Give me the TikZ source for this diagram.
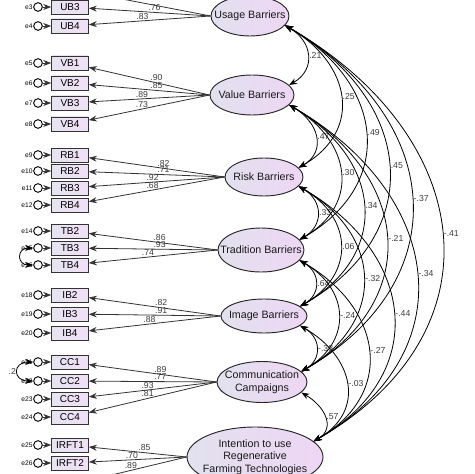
\documentclass[tikz,border=0pt]{standalone}
\usepackage{fontspec}
\setmainfont{Liberation Sans}
\usetikzlibrary{arrows.meta,shapes.geometric,positioning}

\definecolor{lvleft}{RGB}{226,225,238}
\definecolor{lvright}{RGB}{238,214,244}
\definecolor{obsleft}{RGB}{230,227,240}
\definecolor{obsright}{RGB}{240,224,246}
\definecolor{coefgray}{RGB}{60,60,60}

\tikzset{
  latent/.style={ellipse, draw=black!85, line width=0.7pt, left color=lvleft, right color=lvright, inner sep=0pt},
  lvtext/.style={font=\fontsize{8}{9.5}\selectfont, align=center, text=black!90, inner sep=0pt},
  obs/.style={rectangle, draw=black!80, line width=0.7pt, left color=obsleft, right color=obsright, minimum width=27.5pt, minimum height=10.5pt, inner sep=1pt, font=\fontsize{7.5}{9}\selectfont},
  err/.style={circle, draw, fill=white, line width=0.7pt, minimum size=6.5pt, inner sep=0pt},
  errlbl/.style={font=\fontsize{5}{6}\selectfont, inner sep=0.3pt},
  load/.style={draw=black!80, line width=0.6pt, -{Stealth[length=6pt,width=4.5pt]}},
  cov/.style={draw=black, line width=0.6pt, {Stealth[length=6pt,width=4.5pt]}-{Stealth[length=6pt,width=4.5pt]}},
  coef/.style={font=\fontsize{6.5}{7}\selectfont, text=coefgray, inner sep=1pt},
}

\begin{document}
\begin{tikzpicture}[x=0.75pt, y=-0.75pt, node distance=24pt]
\useasboundingbox (0,0) rectangle (474,474);

% latent factors
\node [latent, minimum width=58.5pt, minimum height=30pt, label={[lvtext]center:Usage Barriers}] (ub) at (250,16) {};
\node [latent, minimum width=63pt, minimum height=30pt, label={[lvtext]center:Value Barriers}] (vb) at (252,95) {};
\node [latent, minimum width=58.5pt, minimum height=28.5pt, label={[lvtext]center:Risk Barriers}] (rb) at (264,177) {};
\node [latent, minimum width=64.5pt, minimum height=33pt, label={[lvtext]center:Tradition Barriers}] (tb) at (261,250) {};
\node [latent, minimum width=64.5pt, minimum height=25.5pt, label={[lvtext]center:Image Barriers}] (ib) at (264,316) {};
\node [latent, minimum width=67.5pt, minimum height=30.75pt, label={[lvtext]center:Communication\\Campaigns}] (cc) at (262,382) {};
\node [latent, minimum width=102pt, minimum height=45pt, label={[lvtext]center:Intention to use\\Regenerative\\Farming Technologies}] (int) at (255,457) {};

% indicators and their errors
\foreach \n/\t/\y/\e in {ub2/UB2/-11/e2, ub3/UB3/7/e3, ub4/UB4/26/e4,
    vb1/VB1/63/e5, vb2/VB2/83/e6, vb3/VB3/103/e7, vb4/VB4/124/e8,
    rb1/RB1/155/e9, rb2/RB2/171/e10, rb3/RB3/188/e11, rb4/RB4/205/e12,
    tb2/TB2/231/e14, tb3/TB3/248/e15, tb4/TB4/265/e16,
    ib2/IB2/295/e18, ib3/IB3/314/e19, ib4/IB4/333/e20,
    cc1/CC1/362/e21, cc2/CC2/381/e22, cc3/CC3/399/e23, cc4/CC4/417/e24,
    irft1/IRFT1/445/e25, irft2/IRFT2/463/e26, irft3/IRFT3/485/e27}{
  \node [obs] (\n) at (70,\y) {\t};
  \node [err, left of=\n, label={[errlbl]left:\e}] (e\n) {};
  \draw [load] (e\n) -- (\n);
}

% loadings
\foreach \f/\n/\v/\p in {ub/ub2//.45, ub/ub3/.76/.46, ub/ub4/.83/.56,
    vb/vb1/.90/.44, vb/vb2/.85/.44, vb/vb3/.89/.56, vb/vb4/.73/.56,
    rb/rb1/.82/.45, rb/rb2/.71/.45, rb/rb3/.92/.53, rb/rb4/.68/.53,
    tb/tb2/.86/.45, tb/tb3/.93/.45, tb/tb4/.74/.54,
    ib/ib2/.82/.45, ib/ib3/.91/.45, ib/ib4/.88/.54,
    cc/cc1/.89/.44, cc/cc2/.77/.44, cc/cc3/.93/.54, cc/cc4/.81/.54,
    int/irft1/.85/.43, int/irft2/.70/.56, int/irft3/.89/.57}
  \draw [load] (\f.west) -- node[coef, pos=\p, above] {\v} (\n);

% correlations between factors
\foreach \a/\b/\v in {ub/vb/.21, ub/rb/.25, ub/tb/.49, ub/ib/.45, ub/cc/-.37, ub/int/-.41,
    vb/rb/.47, vb/tb/.30, vb/ib/.34, vb/cc/-.21, vb/int/-.34,
    rb/tb/.33, rb/ib/.06, rb/cc/-.32, rb/int/-.44,
    tb/ib/.64, tb/cc/-.24, tb/int/-.27,
    ib/cc/-.38, ib/int/-.03,
    cc/int/.57}
  \draw [cov] (\a.-15) to[out=-30, in=30, looseness=1.35] node[coef, right] {\v} (\b.15);

% error covariances
\draw [cov] (etb3.west) to[out=180, in=180, looseness=2.5] (etb4.west);
\draw [cov] (ecc1.west) to[out=180, in=180, looseness=2.8] node[coef, left] {.2} (ecc2.west);
\end{tikzpicture}
\end{document}
